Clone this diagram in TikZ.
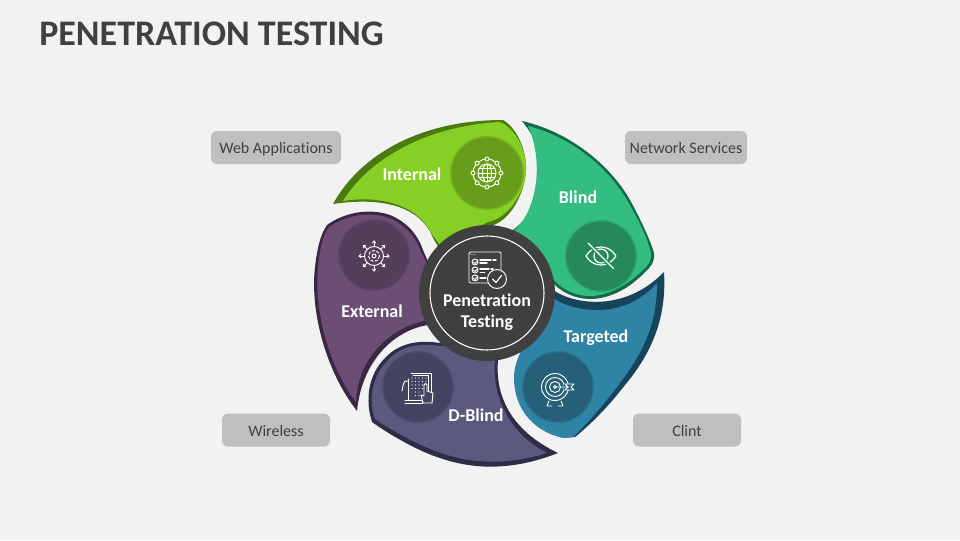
\documentclass[tikz,border=0pt]{standalone}
\usepackage{fontspec}
\setmainfont[RawFeature={-liga;-clig;-dlig}]{Carlito}
\definecolor{bgc}{HTML}{F2F2F2}
\definecolor{inkc}{HTML}{404040}
\definecolor{boxc}{HTML}{BFBFBF}
\definecolor{gF}{HTML}{86CF25}\definecolor{gD}{HTML}{4A7A10}\definecolor{gC}{HTML}{679D1A}
\definecolor{bF}{HTML}{33BD80}\definecolor{bD}{HTML}{14694A}\definecolor{bC}{HTML}{26895C}
\definecolor{tF}{HTML}{2F84A5}\definecolor{tD}{HTML}{17445A}\definecolor{tC}{HTML}{256078}
\definecolor{dF}{HTML}{5B597E}\definecolor{dD}{HTML}{2E2C47}\definecolor{dC}{HTML}{454362}
\definecolor{eF}{HTML}{6C4E74}\definecolor{eD}{HTML}{3B2743}\definecolor{eC}{HTML}{553D5C}
\tikzset{
 tagbox/.style={fill=boxc,rounded corners=4.5pt,minimum height=24.75pt,inner sep=0pt,text=inkc,text height=11.5pt,text depth=2pt,font=\fontsize{12}{14}\selectfont},
 petal/.style={font=\fontsize{13.5}{16}\selectfont\bfseries,text=white,inner sep=0pt,text height=9pt,text depth=0pt},
 ico/.style={draw=white,line width=.7pt,line cap=round,line join=round},
 softdisc/.style={fill=#1,opacity=.5}
}
\begin{document}
\begin{tikzpicture}[x=.75pt,y=-.75pt]
\useasboundingbox (0,0) rectangle (960,540);
\fill[bgc] (0,0) rectangle (960,540);
\node[anchor=west,inner sep=0pt,text=inkc,font=\fontsize{27}{30}\selectfont\bfseries] (title) at (39,34) {PENETRATION TESTING};
\node[tagbox,minimum width=97.5pt] (web) at (276,147.5) {Web Applications};
\node[tagbox,minimum width=91.5pt] (net) at (686,147.5) {Network Services};
\node[tagbox,minimum width=81pt] (wir) at (276,430) {Wireless};
\node[tagbox,minimum width=81pt] (cli) at (687,430) {Clint};
% Internal
\fill[gD] (333,204) .. controls (360,155) and (420,120) .. (503,120) .. controls (516,127) and (527,150) .. (526,170) .. controls (525,193) and (510,222) .. (490,226) -- (440,250) -- (433,238) .. controls (420,205) and (380,197) .. (333,204) -- cycle;
\fill[gF] (343,201) .. controls (368,160) and (425,126) .. (500,122) .. controls (515,128) and (527,150) .. (526,170) .. controls (525,193) and (508,218) .. (488,222) -- (440,245) -- (431,233) .. controls (418,205) and (380,195) .. (343,201) -- cycle;
% Blind
\fill[bD] (522,121) .. controls (570,132) and (610,165) .. (630,200) .. controls (642,222) and (650,240) .. (654,253) .. controls (655,262) and (650,268) .. (645,272) .. controls (630,288) and (610,299) .. (590,299) .. controls (575,299) and (560,292) .. (550,280) -- (505,235) -- (513,230) .. controls (540,210) and (558,165) .. (522,121) -- cycle;
\fill[bF] (528,126) .. controls (572,137) and (608,168) .. (627,200) .. controls (640,222) and (648,240) .. (651,253) .. controls (652,260) and (648,266) .. (643,270) .. controls (628,285) and (608,296) .. (590,296) .. controls (576,296) and (562,290) .. (552,278) -- (510,235) -- (518,227) .. controls (535,208) and (545,165) .. (528,126) -- cycle;
% Targeted
\fill[tD] (664,272) .. controls (667,320) and (650,355) .. (625,385) .. controls (608,407) and (590,425) .. (575,437) -- (563,438) -- (530,350) -- (553,290) .. controls (575,305) and (625,312) .. (664,272) -- cycle;
\fill[tF] (657,283) .. controls (657,322) and (645,350) .. (620,383) .. controls (605,403) and (588,423) .. (573,437) -- (563,438) .. controls (535,432) and (514,410) .. (514,378) .. controls (514,365) and (519,355) .. (524,345) -- (535,320) -- (553,298) .. controls (575,313) and (625,320) .. (657,283) -- cycle;
% D-Blind
\fill[dD] (558,453) .. controls (520,468) and (480,472) .. (440,458) .. controls (420,452) and (390,435) .. (372,422) .. controls (365,400) and (368,375) .. (385,358) .. controls (400,342) and (420,340) .. (440,343) -- (498,345) -- (498,360) .. controls (495,395) and (510,430) .. (558,453) -- cycle;
\fill[dF] (547,453) .. controls (515,463) and (478,466) .. (441,453) .. controls (422,447) and (392,431) .. (375,419) .. controls (368,400) and (372,376) .. (388,360) .. controls (402,345) and (421,343) .. (440,346) -- (494,347) -- (495,360) .. controls (492,395) and (507,432) .. (547,453) -- cycle;
% External
\fill[eD] (357,411) .. controls (325,370) and (310,310) .. (315,267) .. controls (317,250) and (320,235) .. (327,225) .. controls (345,212) and (370,208) .. (390,215) .. controls (407,222) and (418,235) .. (423,250) -- (440,290) -- (440,322) -- (428,325) .. controls (395,330) and (362,360) .. (357,411) -- cycle;
\fill[eF] (356,402) .. controls (328,365) and (314,310) .. (318,267) .. controls (320,250) and (322,236) .. (329,227) .. controls (346,215) and (370,211) .. (389,218) .. controls (405,225) and (416,237) .. (421,252) -- (440,290) -- (440,318) -- (428,320) .. controls (392,327) and (358,355) .. (356,402) -- cycle;
% icon discs
\fill[softdisc=gC] (487,173) circle[radius=37];
\fill[softdisc=bC] (601,256) circle[radius=36];
\fill[softdisc=tC] (558,387) circle[radius=36];
\fill[softdisc=dC] (418,387) circle[radius=36];
\fill[softdisc=eC] (374,255) circle[radius=36];
\fill[gC] (487,173) circle[radius=35.5];
\fill[bC] (601,256) circle[radius=34.5];
\fill[tC] (558,387) circle[radius=34.5];
\fill[dC] (418,387) circle[radius=34.5];
\fill[eC] (374,255) circle[radius=34.5];
% centre
\fill[inkc] (487,293) circle[radius=68];
\draw[white,line width=.8pt] (487,293) circle[radius=57];
% labels
\node[petal] (l1) at (412,174) {Internal};
\node[petal] (l2) at (578,197) {Blind};
\node[petal] (l3) at (596,336) {Targeted};
\node[petal] (l4) at (476,415) {D-Blind};
\node[petal] (l5) at (372,311) {External};
\node[font=\fontsize{13.5}{16}\selectfont\bfseries,text=white,align=center,inner sep=0pt] (ctr) at (487,312) {Penetration\\Testing};
% globe
\begin{scope}[shift={(487,173)},ico]
 \draw (0,0) circle[radius=9];
 \draw (0,0) ellipse[x radius=4.5,y radius=9];
 \draw (0,-9)--(0,9) (-9,0)--(9,0) (-8,-4.5)--(8,-4.5) (-8,4.5)--(8,4.5);
 \draw (0,0) circle[radius=14];
 \foreach \a in {0,45,...,315} \filldraw[fill=gC] (\a:14) circle[radius=2];
\end{scope}
% eye
\begin{scope}[shift={(601,256)},ico,line width=.9pt]
 \draw (-15,0) .. controls (-8,-12) and (8,-12) .. (15,0) .. controls (8,12) and (-8,12) .. (-15,0) -- cycle;
 \draw (0,0) circle[radius=7];
 \draw[bC,line width=3pt] (-12.5,-12.5)--(12.5,12.5);
 \draw (-13,-13)--(12.5,12.5);
\end{scope}
% target
\begin{scope}[shift={(555,387)},ico]
 \draw (0,0) circle[radius=13.5] (0,0) circle[radius=9.5] (0,0) circle[radius=5.5] (0,0) circle[radius=1.5];
 \draw (-6,14)--(-8,19)--(-3,19) (6,14)--(8,19)--(3,19);
 \fill[tC] (9,-3) rectangle (19,3);
 \draw (0,0)--(14,0) (10,-3)--(19,-3)--(16,0)--(19,3)--(10,3)--(13,0)--cycle;
\end{scope}
% touch panel
\begin{scope}[shift={(405,375)},ico]
 \draw (6,-2)--(26,-2)--(26,18) (8,0)--(23,0)--(23,18);
 \draw (3,4)--(3,25) (0,25)--(20,25) (0,28)--(17,28)--(17,25);
 \foreach \x in {7,10.5,14,17.5,21} \foreach \y in {3,6.5,10,13.5} \fill[white] (\x,\y) circle[radius=.55];
 \foreach \x in {10.5,14} \foreach \y in {17,20.5} \fill[white] (\x,\y) circle[radius=.55];
 \draw (3,6) .. controls (-2,4) and (-2,12) .. (-3,16);
 \filldraw[fill=dC] (18,28) -- (16,20) -- (19,21) -- (19,10) .. controls (19,8) and (22,8) .. (22,10) -- (22,16) -- (28,18) -- (27,28) -- cycle;
\end{scope}
% virus
\begin{scope}[shift={(374,256)},ico]
 \draw (0,0) circle[radius=9.5] (0,0) circle[radius=2];
 \draw[dash pattern=on 2pt off 1.5pt] (0,0) circle[radius=5.5];
 \foreach \a in {0,45,...,315} {
  \draw (\a:9.5)--(\a:15);
  \draw (\a:15)++(\a+140:2.5)--(\a:15)--++(\a-140:2.5);
 }
\end{scope}
% checklist
\begin{scope}[shift={(469,252)},ico]
 \draw[rounded corners=1pt] (0,0) rectangle (32,31);
 \foreach \x in {2,4,6} \fill[white] (\x,2.5) circle[radius=.5];
 \foreach \y in {10,18,26} {\draw (6,\y) circle[radius=3]; \draw (4.5,\y)--(6,\y+1.5)--(9,\y-2);}
 \draw[line width=1.1pt] (11,8)--(22,8) (24,8)--(27,8) (11,11)--(18,11) (11,17)--(20,17) (22,17)--(24,17) (11,26)--(17,26);
 \draw (11,20)--(16,20);
 \filldraw[fill=inkc] (28,27) circle[radius=9.5];
 \draw[line width=.9pt] (23.5,27)--(27,30.5)--(32.5,23.5);
\end{scope}
\end{tikzpicture}
\end{document}
